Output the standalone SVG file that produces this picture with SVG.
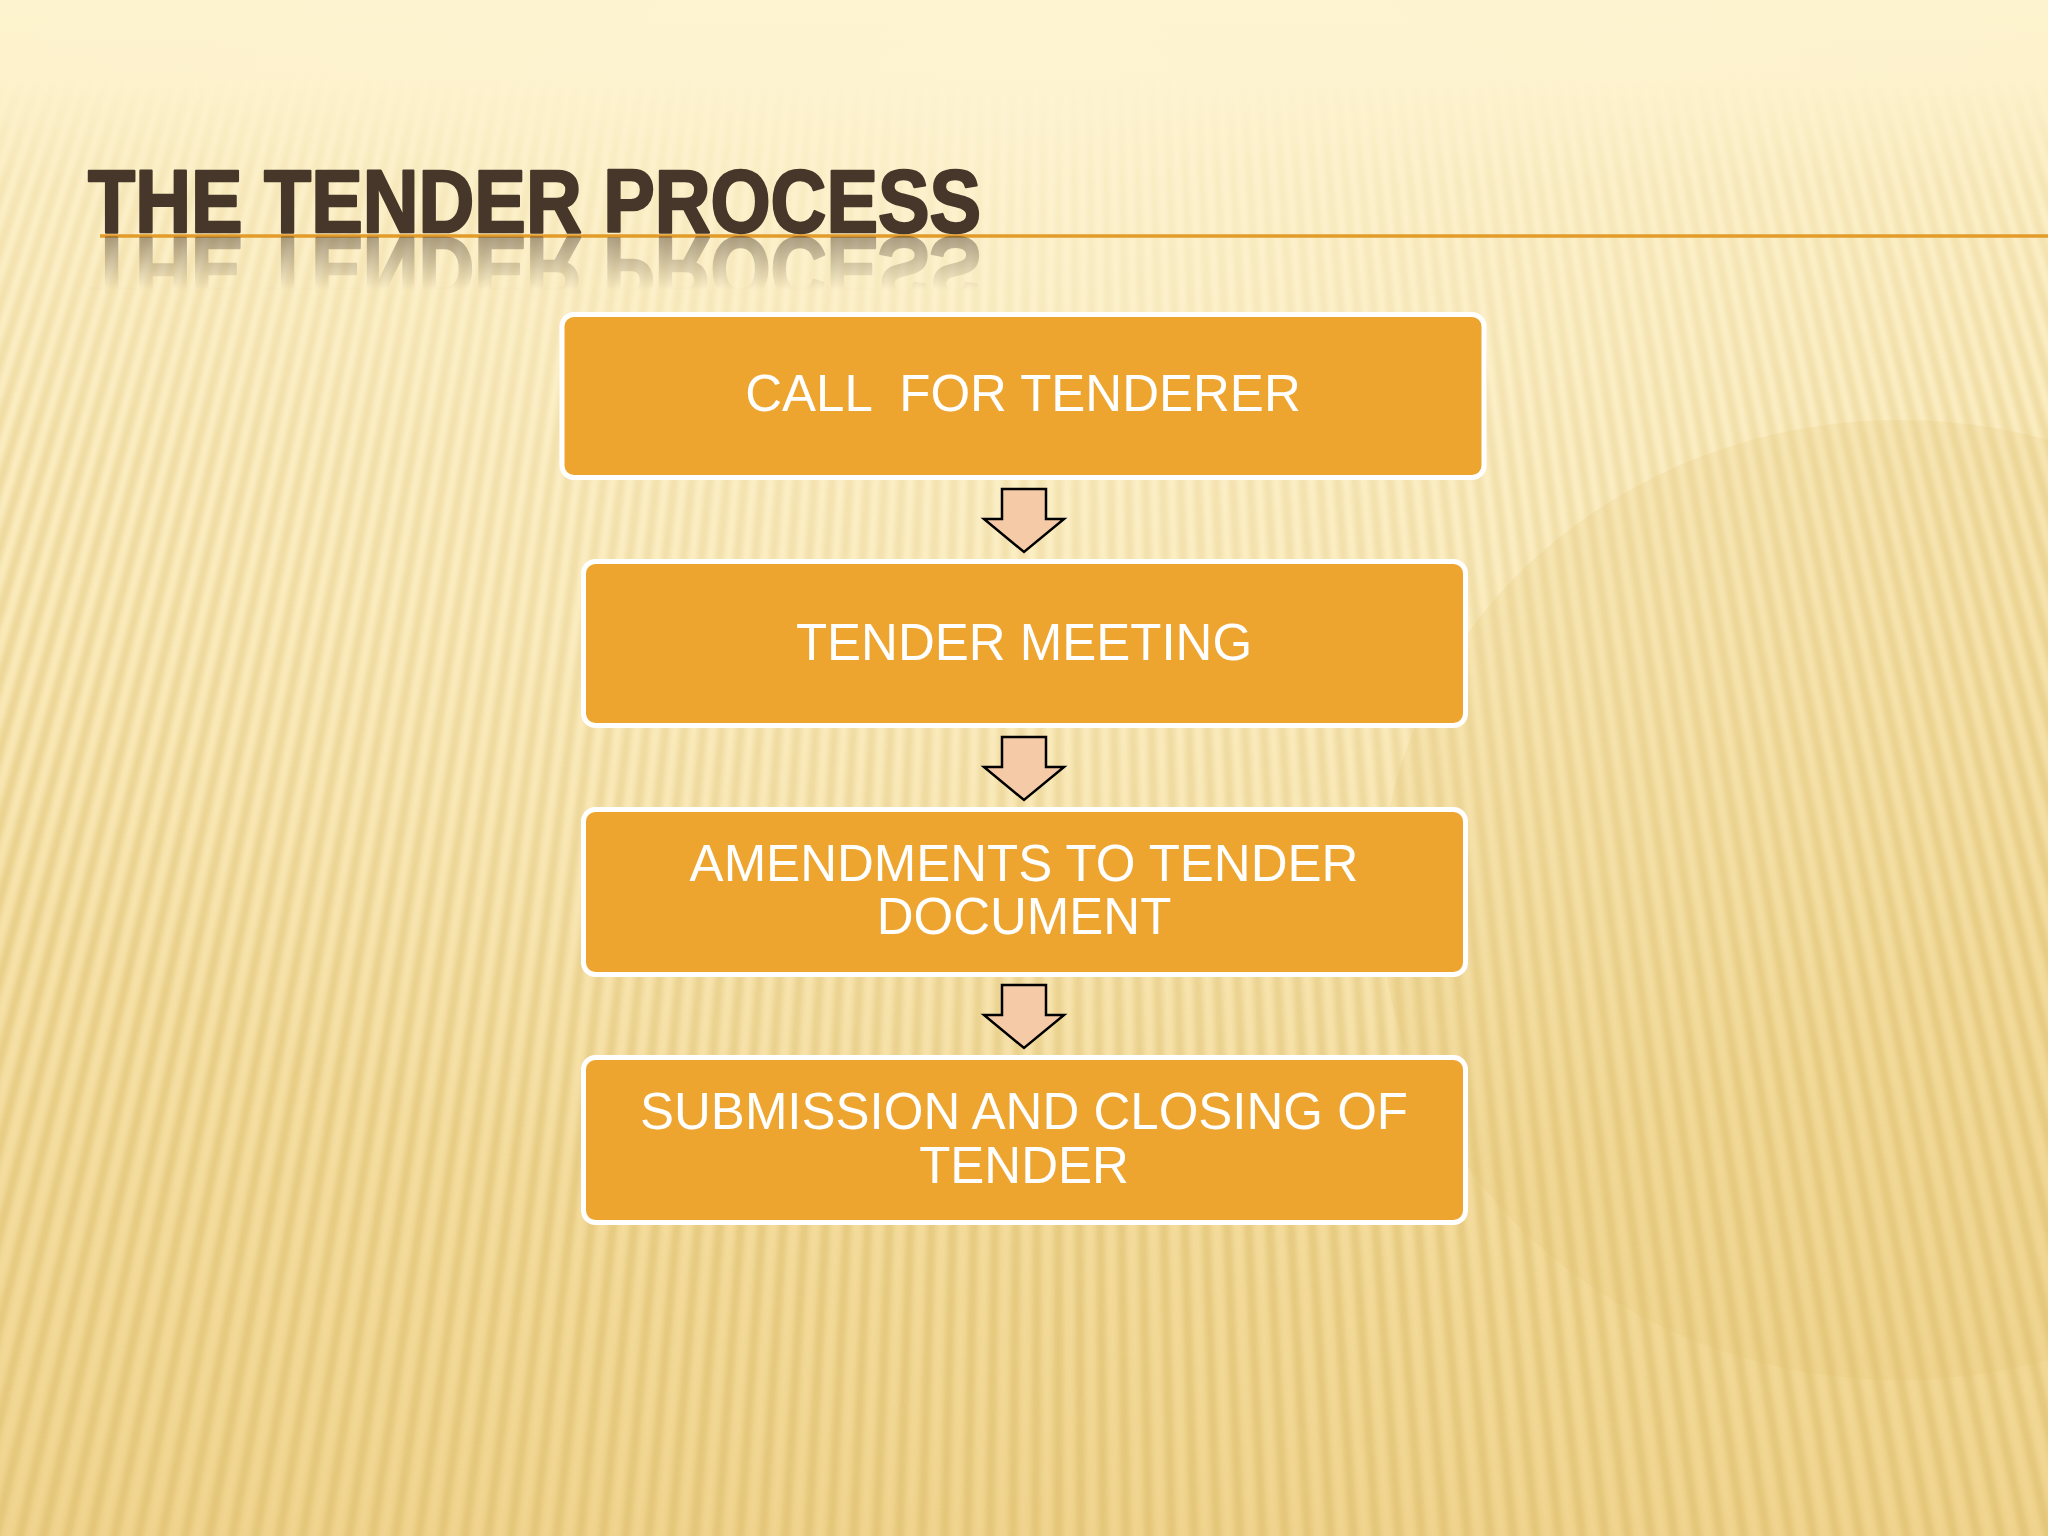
<svg xmlns="http://www.w3.org/2000/svg" width="2048" height="1536" viewBox="0 0 2048 1536">
<defs>
<style>
.box{fill:#eea530;stroke:#ffffff;stroke-width:5}
.lbl{font-family:"Liberation Sans",Arial,sans-serif;font-size:51px;fill:#ffffff;text-anchor:middle;white-space:pre}
.arr{fill:#f5cba7;stroke:#000000;stroke-width:2.5;stroke-linejoin:miter}
.title{font-family:"Liberation Sans",Arial,sans-serif;font-weight:bold;font-size:89px;fill:#47372a;stroke:#47372a;stroke-width:2.5;stroke-linejoin:round}
</style>
<linearGradient id="bg" x1="0" y1="0" x2="0" y2="1">
<stop offset="0" stop-color="#fdf2cc"/>
<stop offset="0.4" stop-color="#fbeab8"/>
<stop offset="1" stop-color="#f0d48e"/>
</linearGradient>
<radialGradient id="glow" cx="0.5" cy="0.1" r="0.7">
<stop offset="0" stop-color="#fff6d8" stop-opacity="0.6"/>
<stop offset="1" stop-color="#fff6d8" stop-opacity="0"/>
</radialGradient>
<linearGradient id="stripeFade" x1="0" y1="0" x2="0" y2="1">
<stop offset="0" stop-color="#fff" stop-opacity="0"/>
<stop offset="0.05" stop-color="#fff" stop-opacity="0"/>
<stop offset="0.12" stop-color="#fff" stop-opacity="0.35"/>
<stop offset="0.3" stop-color="#fff" stop-opacity="0.6"/>
<stop offset="1" stop-color="#fff" stop-opacity="0.7"/>
</linearGradient>
<mask id="stripeMask" maskUnits="userSpaceOnUse" x="0" y="0" width="2048" height="1536">
<rect x="0" y="0" width="2048" height="1536" fill="url(#stripeFade)"/>
</mask>
<filter id="soft" filterUnits="userSpaceOnUse" x="0" y="0" width="2048" height="1536">
<feGaussianBlur stdDeviation="2.5"/>
</filter>
<linearGradient id="reflFade" x1="0" y1="236" x2="0" y2="290" gradientUnits="userSpaceOnUse">
<stop offset="0" stop-color="#fff" stop-opacity="0.45"/>
<stop offset="1" stop-color="#fff" stop-opacity="0"/>
</linearGradient>
<mask id="reflMask" maskUnits="userSpaceOnUse" x="0" y="230" width="1100" height="90">
<rect x="0" y="236" width="1100" height="80" fill="url(#reflFade)"/>
</mask>
<clipPath id="slide"><rect x="0" y="0" width="2048" height="1536"/></clipPath>
</defs>

<rect x="0" y="0" width="2048" height="1536" fill="url(#bg)"/>
<g clip-path="url(#slide)" mask="url(#stripeMask)">
<circle cx="1060" cy="-3000" r="3800" fill="none" stroke="#d8b965" stroke-width="2400" stroke-dasharray="9 10" opacity="0.75" filter="url(#soft)"/>
</g>
<rect x="0" y="0" width="2048" height="1536" fill="url(#glow)"/>
<ellipse cx="1900" cy="900" rx="520" ry="480" fill="#e2c070" opacity="0.18"/>

<g id="title">
<line x1="100" y1="236" x2="2048" y2="236" stroke="#e39b2a" stroke-width="3.5"/>
<text id="titleText" class="title" x="88" y="232" textLength="893" lengthAdjust="spacingAndGlyphs">THE TENDER PROCESS</text>
<g mask="url(#reflMask)">
<use href="#titleText" transform="translate(0,470) scale(1,-1)"/>
</g>
</g>

<g id="node1">
<rect class="box" x="562" y="314.5" width="922" height="163" rx="12"/>
<text class="lbl" x="1023" y="411" xml:space="preserve">CALL  FOR TENDERER</text>
</g>
<g id="node2">
<rect class="box" x="583.5" y="561.5" width="882" height="164" rx="12"/>
<text class="lbl" x="1024" y="660">TENDER MEETING</text>
</g>
<g id="node3">
<rect class="box" x="583.5" y="809.5" width="882" height="165" rx="12"/>
<text class="lbl" x="1024" y="881">AMENDMENTS TO TENDER</text>
<text class="lbl" x="1024" y="934">DOCUMENT</text>
</g>
<g id="node4">
<rect class="box" x="583.5" y="1057.5" width="882" height="165" rx="12"/>
<text class="lbl" x="1024" y="1129">SUBMISSION AND CLOSING OF</text>
<text class="lbl" x="1024" y="1183">TENDER</text>
</g>

<g id="connectors">
<path class="arr" d="M1002,489 H1046 V519 H1064 L1024,552 L984,519 H1002 Z"/>
<path class="arr" d="M1002,737 H1046 V767 H1064 L1024,800 L984,767 H1002 Z"/>
<path class="arr" d="M1002,985 H1046 V1015 H1064 L1024,1048 L984,1015 H1002 Z"/>
</g>
</svg>
